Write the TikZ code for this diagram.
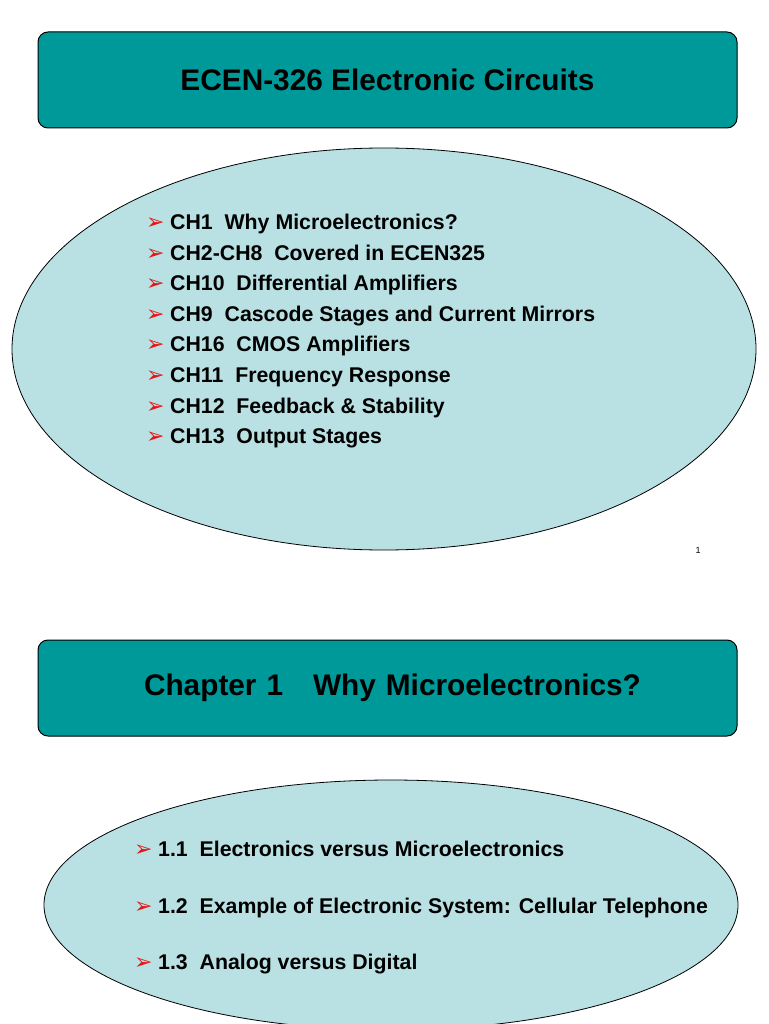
\documentclass[tikz,border=0pt]{standalone}
\usepackage{fontspec}
\setmainfont{Liberation Sans}
\newfontfamily\dejavu{DejaVu Sans}
\usetikzlibrary{shapes.geometric}
\definecolor{teal1}{RGB}{0,153,153}
\definecolor{ltblue}{RGB}{185,225,228}
\definecolor{bul}{RGB}{230,20,20}
\newcommand{\bu}{\makebox[24pt][l]{\dejavu\color{bul}\fontsize{22}{22}\selectfont ➢}}
\tikzset{
  titlebox/.style={draw=black, line width=1pt, fill=teal1, rounded corners=10pt, minimum width=699pt, minimum height=96pt, font=\fontsize{29.8}{34}\selectfont\bfseries},
  item/.style={anchor=base west, font=\fontsize{21.3}{25}\selectfont\bfseries, inner sep=0pt}
}
\begin{document}
\begin{tikzpicture}[x=1pt,y=-1pt]
\useasboundingbox[fill=white] (0,0) rectangle (768,1024);
\begin{scope}
\clip (0,0) rectangle (768,1024);
\node[titlebox] (t1) at (387.5,80) {ECEN-326 Electronic Circuits};
\filldraw[draw=black, line width=0.8pt, fill=ltblue] (384,349) ellipse [x radius=372, y radius=201];
\node[item] (a1) at (146,229.5) {\bu CH1\ \ Why Microelectronics?};
\node[item] (a2) at (146,260.1) {\bu CH2-CH8\ \ Covered in ECEN325};
\node[item] (a3) at (146,290.7) {\bu CH10\ \ Differential Amplifiers};
\node[item] (a4) at (146,321.3) {\bu CH9\ \ Cascode Stages and Current Mirrors};
\node[item] (a5) at (146,351.9) {\bu CH16\ \ CMOS Amplifiers};
\node[item] (a6) at (146,382.5) {\bu CH11\ \ Frequency Response};
\node[item] (a7) at (146,413.1) {\bu CH12\ \ Feedback \& Stability};
\node[item] (a8) at (146,443.7) {\bu CH13\ \ Output Stages};
\node[font=\fontsize{9}{10}\selectfont] (pg) at (698,550) {1};
\node[titlebox, inner xsep=0pt, text width=699pt, align=left] (t2) at (387.5,688) {\hspace{106pt}Chapter 1\hspace{30pt}Why Microelectronics?};
\filldraw[draw=black, line width=0.8pt, fill=ltblue] (391,905) ellipse [x radius=347, y radius=125];
\node[item] (b1) at (134,856.5) {\bu 1.1\ \ Electronics versus Microelectronics};
\node[item] (b2) at (134,913.5) {\bu 1.2\ \ Example of Electronic System: Cellular Telephone};
\node[item] (b3) at (134,969.5) {\bu 1.3\ \ Analog versus Digital};
\end{scope}
\end{tikzpicture}
\end{document}
